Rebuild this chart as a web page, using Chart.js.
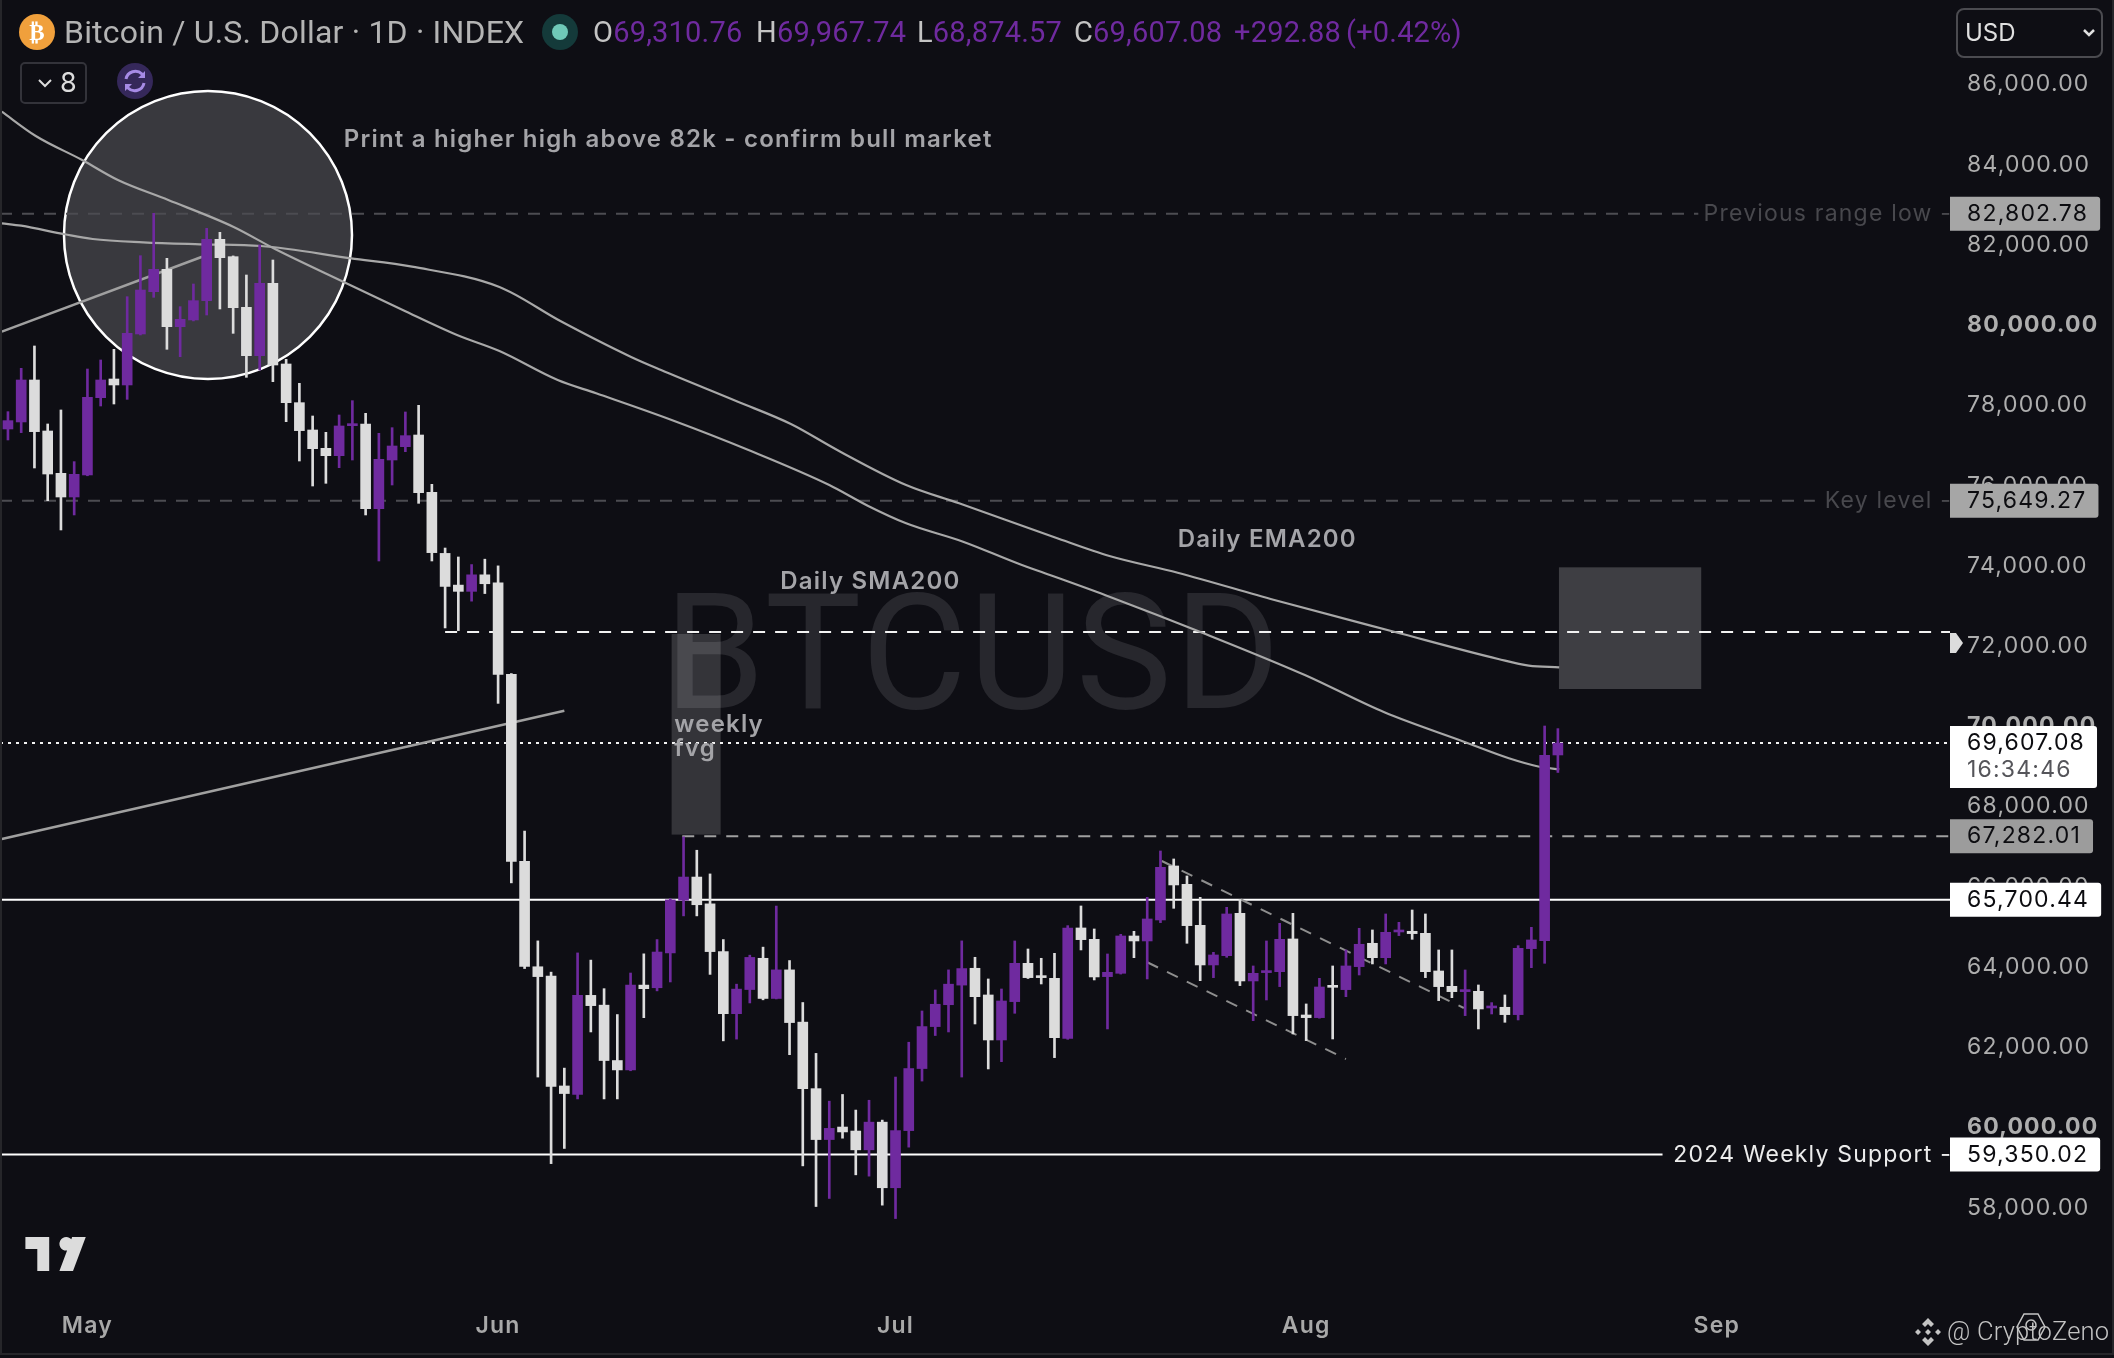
<!DOCTYPE html>
<html>
<head>
<meta charset="utf-8">
<title>BTCUSD 1D</title>
<script src="https://cdn.jsdelivr.net/npm/chart.js@4/dist/chart.umd.min.js"></script>
<style>
  html, body { margin: 0; padding: 0; background: #0e0e14; }
  #wrap { position: relative; width: 2114px; height: 1358px; overflow: hidden; background: #0e0e14; font-family: Roboto, sans-serif; }
  #chart { position: absolute; left: 0; top: 0; }
  .hd { position: absolute; top: 14px; font-size: 29px; line-height: 36px; white-space: nowrap; letter-spacing: 0.2px; }
  .pv { color: #6f2a9f; }
  .lt { color: #c4c4c4; }
  .frame { position: absolute; left: 0; top: 0; width: 2110px; height: 1353px; border: 2px solid #26262a; border-top: 0; pointer-events: none; }
  #usd { position: absolute; left: 1956px; top: 8px; width: 143px; height: 46px; border: 2px solid #4b4b50; border-radius: 8px; color: #e0e0e0; font: 24px Inter, sans-serif; line-height: 46px; text-indent: 7px; }
  #fold { position: absolute; left: 20px; top: 62px; width: 63px; height: 38px; border: 2px solid #33333a; border-radius: 5px; color: #dcdcdc; font: 27px Inter, sans-serif; line-height: 38px; text-indent: 38px; }
  #brand { position: absolute; left: 1947px; top: 1316px; font: 300 25.5px Roboto, sans-serif; color: #c4c4c4; letter-spacing: 0.2px; white-space: nowrap; }
</style>
</head>
<body>
<div id="wrap">
  <canvas id="chart" width="2114" height="1358"></canvas>

  <!-- header row -->
  <svg style="position:absolute;left:18px;top:13px" width="38" height="38"><circle cx="19" cy="19" r="18" fill="#f0a03c"/><text x="19" y="27" font-family="Roboto" font-weight="700" font-size="23" fill="#fff" text-anchor="middle">₿</text></svg>
  <div class="hd" style="left:64px;color:#b4b4b4;font-size:32px">Bitcoin / U.S. Dollar · 1D · INDEX</div>
  <svg style="position:absolute;left:541px;top:13px" width="38" height="38"><circle cx="19" cy="19" r="18" fill="#143a3a"/><circle cx="19" cy="19" r="8" fill="#6fc9b8"/></svg>
  <div class="hd lt" style="left:593px">O<span class="pv">69,310.76</span></div>
  <div class="hd lt" style="left:756px">H<span class="pv">69,967.74</span></div>
  <div class="hd lt" style="left:917px">L<span class="pv">68,874.57</span></div>
  <div class="hd lt" style="left:1074px">C<span class="pv">69,607.08</span></div>
  <div class="hd pv" style="left:1234px">+292.88</div>
  <div class="hd pv" style="left:1346px">(+0.42%)</div>

  <div id="usd">USD<svg style="position:absolute;left:124px;top:18px" width="14" height="10"><path d="M2 2l5 5 5-5" fill="none" stroke="#e0e0e0" stroke-width="2.5"/></svg></div>
  <div id="fold">8<svg style="position:absolute;left:15px;top:14px" width="16" height="11"><path d="M2 2l6 6 6-6" fill="none" stroke="#dcdcdc" stroke-width="2"/></svg></div>
  <svg style="position:absolute;left:117px;top:63px" width="36" height="36">
    <circle cx="18" cy="18" r="18" fill="#35285a"/>
    <path d="M9 16a9.5 9.5 0 0 1 16-5l2 2M27 20a9.5 9.5 0 0 1-16 5l-2-2" fill="none" stroke="#a78be6" stroke-width="3"/>
    <path d="M28 8v7h-7zM8 28v-7h7z" fill="#a78be6"/>
  </svg>

  <!-- logo bottom left -->
  <svg style="position:absolute;left:25px;top:1237px" width="62" height="34" viewBox="0 0 36 20"><path d="M14 20H7V7H0V0h14zM28 20h-8L27.5 0h8zM20 4a4 4 0 1 1 0 .01z" fill="#dcdcdc"/></svg>

  <!-- bottom right credit -->
  <svg style="position:absolute;left:1914px;top:1317px" width="28" height="30" viewBox="0 0 28 30" fill="#c4c4c4">
    <path d="M14 1l6 6-3 3-3-3-3 3-3-3zM14 29l6-6-3-3-3 3-3-3-3 3zM14 12l3 3-3 3-3-3zM4 12l3 3-3 3-3-3zM24 12l3 3-3 3-3-3z"/>
  </svg>
  <div id="brand">@ CryptoZeno</div>
  <svg style="position:absolute;left:2016px;top:1312px" width="30" height="30" viewBox="0 0 30 30"><path d="M8 2h14l7 13-7 13H8L1 15z" fill="none" stroke="#c4c4c4" stroke-width="1.5"/><circle cx="15" cy="13" r="5" fill="none" stroke="#c4c4c4" stroke-width="1.5"/></svg>

  <div class="frame"></div>
</div>

<script>
// daily candles, 25 Apr to 20 Aug
const opens = [77436,77611,78657,77386,76331,75741,76290,78217,78682,78533,79804,80859,81416,79987,80153,80635,82163,81731,80468,79264,81067,79056,78092,77411,76954,76771,77519,77561,75450,76663,76996,77286,75858,
  74335,73545,73389,73801,73601,71320,66658,64032,63798,61061,60849,63319,63075,61695,61461,63575,63509,64377,65690,66268,65600,64410,62863,63464,64243,63242,63954,62652,60994,59725,60037,59937,59469,60159,58524,59948,61495,62541,63086,63575,63994,
  63329,62207,63163,64118,63802,63744,62249,64999,64716,63786,63869,64799,64675,65198,66544,66087,65065,64077,64309,65364,63678,63886,63910,64725,62830,62764,63553,63462,64035,64617,64259,64899,64916,64866,63927,63545,63412,63420,63005,63022,62839,64484,64683,69310.76];
const highs = [77868,78948,79505,77561,77910,76622,78931,79156,79422,80734,81756,82811,81690,80485,81050,82437,82338,81750,81274,82022,81648,79172,78574,77760,77353,77785,78142,77827,77328,77469,77860,78026,76057,
  74469,74246,74057,74191,74024,71340,67414,64677,63898,61506,64377,64198,63486,62841,63876,64354,64710,65730,67270,66936,66346,64710,63598,64321,64521,65545,64187,63141,61873,60682,60849,60460,60705,60210,61283,62151,62930,63453,63954,64677,64268,
  63728,63478,64675,64475,64243,64367,65057,65547,64974,64351,64841,64916,65763,66918,66719,66295,65763,64392,65514,65713,64052,64675,65115,65364,63105,63744,64052,64451,64991,64949,65348,65140,65447,65348,64451,64451,63952,63578,63138,63329,64558,65015,70033,69967.74];
const lows = [77162,77345,76464,75650,74919,75293,76270,78009,78059,78175,79780,80718,79422,79239,80130,80277,80427,79820,78724,78907,78616,77619,76638,76015,76082,76472,76663,75293,74146,76040,76871,75583,74146,
  72477,72410,73145,73334,70597,66123,63987,61283,59125,59503,60738,62407,60738,60738,61440,62763,63431,63653,65300,65300,63842,62185,62229,63130,63208,63230,61840,59069,58056,58257,59759,58846,58813,58090,57756,59536,61183,62318,62407,61283,62606,
  61485,61667,62872,63740,63603,61767,62224,64451,63703,62482,63850,64259,63728,65132,65489,64617,63686,63761,64268,63562,62689,63204,63537,62357,62191,62750,62232,63287,63827,64102,64102,64808,64716,63761,63188,63262,62814,62482,62855,62648,62706,64010,64118,68874.57];
const closes = [77644,78657,77370,76314,75741,76306,78225,78657,78533,79820,80900,81416,79987,80169,80635,82163,81706,80460,79264,81067,79031,78092,77395,76946,76771,77511,77552,75450,76680,77012,77270,75849,74354,
  73512,73389,73801,73579,71320,66658,64043,63787,61050,60872,63319,63063,61695,61461,63575,63486,64399,65700,66268,65578,64410,62863,63475,64265,63242,63954,62641,60994,59725,60004,59915,59469,60159,58524,59948,61495,62541,63097,63598,63987,63287,
  62207,63179,64118,63761,63761,62265,64999,64708,63778,63894,64799,64675,65223,66511,66071,65057,64077,64326,65348,63678,63869,63927,64716,62814,62764,63528,63520,64052,64592,64259,64891,64941,64858,63910,63537,63412,63454,62980,63038,62839,64492,64700,69302,69607.08];

// moving averages: bar position, price
const emaBars = [-0.46,1,4.3,6.4,10.2,14.5,19.1,25.9,30.5,37.1,41.7,47,49.3,55.1,59.1,62.6,67.8,71.8,79.05,83.15,88.3,95.6,104.7,112.5,114.8,117.1];
const emaValues = [82563,82503,82289,82172,82089,82040,81997,81690,81481,80975,80127,79238,78906,78116,77560,76912,76040,75584,74732,74270,73854,73174,72376,71703,71536,71496];
const smaBars = [-0.46,2.1,5.6,8.3,12.1,17,20.2,25.3,29.8,33.9,37.1,41.5,44.4,50.1,55.9,62,64.9,67.8,72.1,76.2,78.65,83.15,90.4,97.9,103.9,109.9,113.3,115.6,117.1];
const smaValues = [85344,84739,84141,83642,83144,82478,81915,81107,80402,79779,79380,78657,78326,77660,76912,76040,75524,75086,74627,74088,73797,73256,72326,71304,70374,69642,69228,69018,68954];

// price axis and month axis
const priceTicks = [86000,84000,82000,80000,78000,76000,74000,72000,70000,68000,66000,64000,62000,60000,58000];
const boldTicks = [80000,70000,60000];
const monthBars = [6,37,67,98,129];
const monthNames = ['May','Jun','Jul','Aug','Sep'];

// horizontal levels: price, first bar, last bar
const levelPrices = [82802.78,75649.27,72376,69607.08,67282.01,65700.44,59350.02];
const levelStarts = [-0.6,-0.6,33,-0.6,50.9,-0.6,-0.6];
const levelEnds = [127.6,136.4,146.6,146.6,146.6,146.6,124.9];
const levelColors = ['#4c4c51','#4c4c51','#f2f2f2','#f2f2f2','#a0a0a0','#ffffff','#ffffff'];
const levelDashes = [[12,10],[12,10],[12,10],[3,5],[12,10],[],[]];

// sloped drawings: [bar, price, bar, price]
const trendLines = [[-0.46,79861,14.66,81730],[-0.46,67216,42,70415]];
const channelLines = [[87.1,66668,109.9,63004],[86,64144,101,61733]];

// zones: first bar, last bar, top price, bottom price
const zones = [[50.1,53.8,72326,67326],[117.08,127.82,73988,70955]];
const zoneColors = ['rgba(255,255,255,0.16)','rgba(255,255,255,0.2)'];

const chartNotes = ['Print a higher high above 82k - confirm bull market','Daily SMA200','Daily EMA200','weekly','fvg'];
const noteBars = [25.35,58.3,88.3,50.3,50.3];
const notePrices = [84640,73623,74670,70060,69462];

const tagPrices = [82802.78,75649.27,69607.08,67282.01,65700.44,59350.02];
const tagFills = ['#a6a6a6','#a6a6a6','#ffffff','#9c9c9c','#ffffff','#ffffff'];
const COUNTDOWN = '16:34:46';

const UP = '#6f2a9f';
const DOWN = '#dcdcdc';
const candleColors = closes.map((c, i) => c >= opens[i] ? UP : DOWN);

function priceText(v) {
  return v.toLocaleString('en-US', { minimumFractionDigits: 2, maximumFractionDigits: 2 });
}

function lineSet(points, color, width, dash, order) {
  return {
    type: 'line', data: points, borderColor: color, borderWidth: width, borderDash: dash || [],
    pointRadius: 0, tension: 0, fill: false, order: order
  };
}

const datasets = [];

// highlight circle behind everything
datasets.push({
  type: 'bubble',
  data: [{ x: 15.1, y: 82271, r: 144 }],
  backgroundColor: 'rgba(255,255,255,0.18)',
  borderColor: '#ffffff',
  borderWidth: 2.5,
  order: 10
});

levelPrices.forEach((p, i) => {
  datasets.push(lineSet([{ x: levelStarts[i], y: p }, { x: levelEnds[i], y: p }], levelColors[i], 2, levelDashes[i], 6));
});
trendLines.forEach(t => {
  datasets.push(lineSet([{ x: t[0], y: t[1] }, { x: t[2], y: t[3] }], '#a0a0a0', 2.5, [], 5));
});
channelLines.forEach(t => {
  datasets.push(lineSet([{ x: t[0], y: t[1] }, { x: t[2], y: t[3] }], '#8e8e8e', 2, [12,10], 4));
});
[[emaBars, emaValues], [smaBars, smaValues]].forEach(ma => {
  const set = lineSet(ma[0].map((b, i) => ({ x: b, y: ma[1][i] })), '#a8a8a8', 2.2, [], 3);
  set.cubicInterpolationMode = 'monotone';
  datasets.push(set);
});

// wicks and bodies are floating bars
datasets.push({
  type: 'bar', grouped: false, barThickness: 2, order: 2,
  data: opens.map((o, i) => ({ x: i, y: [lows[i], highs[i]] })),
  backgroundColor: candleColors
});
datasets.push({
  type: 'bar', grouped: false, barThickness: 10, minBarLength: 2, order: 1,
  data: opens.map((o, i) => ({ x: i, y: [o, closes[i]] })),
  backgroundColor: candleColors
});

const chartExtras = {
  id: 'chartExtras',
  beforeDraw(chart) {
    chart.ctx.letterSpacing = '1.2px';
  },
  beforeDatasetsDraw(chart) {
    const { ctx, scales: { x, y } } = chart;
    ctx.save();
    // symbol watermark
    ctx.letterSpacing = '2px';
    ctx.font = '400 162px Roboto, sans-serif';
    ctx.fillStyle = '#27272d';
    ctx.textAlign = 'left';
    ctx.textBaseline = 'alphabetic';
    ctx.fillText('BTCUSD', 664, 708);
    // zones
    zones.forEach((z, i) => {
      ctx.fillStyle = zoneColors[i];
      ctx.fillRect(x.getPixelForValue(z[0]), y.getPixelForValue(z[2]), x.getPixelForValue(z[1]) - x.getPixelForValue(z[0]), y.getPixelForValue(z[3]) - y.getPixelForValue(z[2]));
    });
    ctx.restore();
  },
  afterDatasetsDraw(chart) {
    const { ctx, scales: { x, y } } = chart;
    ctx.save();
    ctx.font = '600 24px Inter, sans-serif';
    ctx.fillStyle = '#a4a4a8';
    ctx.textAlign = 'left';
    ctx.textBaseline = 'middle';
    chartNotes.forEach((t, i) => {
      ctx.fillText(t, x.getPixelForValue(noteBars[i]), y.getPixelForValue(notePrices[i]));
    });
    ctx.restore();
  },
  afterDraw(chart) {
    const { ctx, scales: { y } } = chart;
    ctx.save();
    ctx.textBaseline = 'middle';
    ctx.textAlign = 'left';
    const axisFont = '23px Inter, sans-serif';

    // line captions next to the price tags
    ctx.font = axisFont;
    ctx.textAlign = 'right';
    ctx.fillStyle = '#48484d';
    ctx.fillText('Previous range low -', 1952, y.getPixelForValue(82802.78));
    ctx.fillText('Key level -', 1952, y.getPixelForValue(75649.27));
    ctx.fillStyle = '#ececec';
    ctx.fillText('2024 Weekly Support -', 1952, y.getPixelForValue(59350.02));

    // arrow tag on the axis edge
    const ay = 643;
    ctx.fillStyle = '#dcdcdc';
    ctx.beginPath();
    ctx.moveTo(1950, ay - 10);
    ctx.lineTo(1956, ay - 10);
    ctx.lineTo(1963, ay);
    ctx.lineTo(1956, ay + 10);
    ctx.lineTo(1950, ay + 10);
    ctx.closePath();
    ctx.fill();

    // price tags
    ctx.textAlign = 'left';
    tagPrices.forEach((p, i) => {
      const py = y.getPixelForValue(p);
      const txt = priceText(p);
      const w = ctx.measureText(txt).width + 17 + 12;
      const isLast = p === closes[closes.length - 1];
      ctx.fillStyle = tagFills[i];
      ctx.beginPath();
      ctx.roundRect(1950, py - 17, w, isLast ? 62 : 34, [0, 3, 3, 0]);
      ctx.fill();
      ctx.fillStyle = '#0c0c10';
      ctx.fillText(txt, 1967, py);
      if (isLast) {
        ctx.fillStyle = '#55555a';
        ctx.fillText(COUNTDOWN, 1967, py + 27);
      }
    });
    ctx.restore();
  }
};

new Chart(document.getElementById('chart'), {
  type: 'bar',
  data: { datasets: datasets },
  plugins: [chartExtras],
  options: {
    responsive: false,
    animation: false,
    devicePixelRatio: 1,
    events: [],
    layout: { padding: 0, autoPadding: false },
    plugins: { legend: { display: false }, tooltip: { enabled: false } },
    scales: {
      x: {
        type: 'linear',
        offset: false,
        min: -0.6,
        max: 146.6,
        grid: { display: false, drawTicks: false },
        border: { display: false },
        afterBuildTicks(axis) { axis.ticks = monthBars.map(v => ({ value: v })); },
        afterFit(axis) {
          axis.height = 58;
          axis.paddingLeft = axis.paddingRight = axis.paddingTop = axis.paddingBottom = 0;
        },
        ticks: {
          autoSkip: false,
          maxRotation: 0,
          padding: 12,
          color: '#a8a8a8',
          font: { family: 'Inter, sans-serif', size: 23, weight: '600' },
          callback: v => monthNames[monthBars.indexOf(v)]
        }
      },
      y: {
        type: 'linear',
        position: 'right',
        min: 55726,
        max: 88128.6,
        grid: { display: false, drawTicks: false },
        border: { display: false },
        afterBuildTicks(axis) { axis.ticks = priceTicks.map(v => ({ value: v })); },
        afterFit(axis) {
          axis.width = 164;
          axis.paddingLeft = axis.paddingRight = axis.paddingTop = axis.paddingBottom = 0;
        },
        ticks: {
          autoSkip: false,
          padding: 17,
          labelOffset: -1,
          color: '#aeaeae',
          font: ctx => ({
            family: 'Inter, sans-serif',
            size: 23,
            weight: boldTicks.includes(ctx.tick && ctx.tick.value) ? '700' : '400'
          }),
          callback: v => priceText(v)
        }
      }
    }
  }
});
</script>
</body>
</html>
